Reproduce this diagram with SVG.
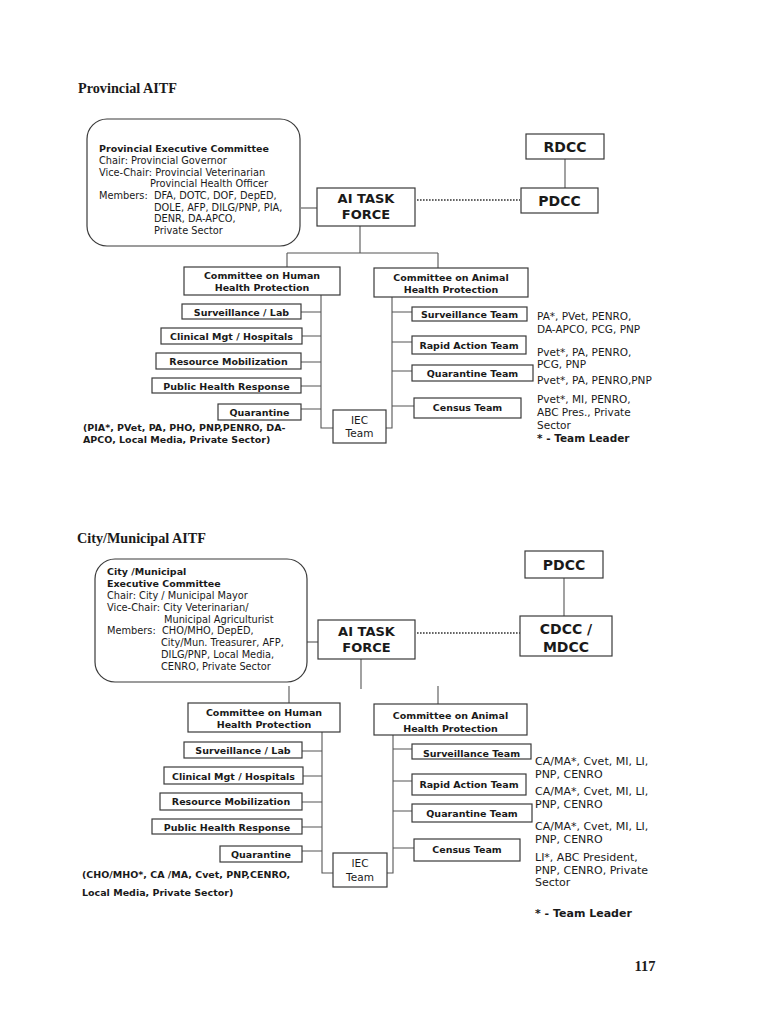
<svg xmlns="http://www.w3.org/2000/svg" width="768" height="1024" viewBox="0 0 768 1024">
<style>
.bg{fill:#fff}
.box{fill:#fff;stroke:#3a3a3a;stroke-width:1.2}
.rbox{fill:#fff;stroke:#3a3a3a;stroke-width:1.2}
.ln{stroke:#555;stroke-width:1.1;fill:none}
.dot{stroke:#333;stroke-width:1.6;stroke-dasharray:1.6 1.4;fill:none}
.t{font-family:"DejaVu Sans",Verdana,sans-serif;fill:#1a1a1a;font-size:9.5px}
.ex{font-size:9.8px}
.b{font-weight:bold}
.c{text-anchor:middle}
.big{font-size:13px;font-weight:bold}
.xl{font-size:14px;font-weight:bold}
.side{font-size:10.5px}
.side2{font-size:11px}
.iec{font-size:10.5px}
.title{font-family:"Liberation Serif","Times New Roman",serif;font-weight:bold;font-size:14.5px;fill:#1a1a1a}
</style>
<rect class="bg" x="0" y="0" width="768" height="1024"/>

<text class="title" x="78" y="93" textLength="99" lengthAdjust="spacingAndGlyphs">Provincial AITF</text>
<text class="title" x="77" y="543" textLength="129" lengthAdjust="spacingAndGlyphs">City/Municipal AITF</text>
<text class="title" x="645" y="971" text-anchor="middle" font-size="15">117</text>

<g id="connectors">
  <path class="ln" d="M301 208H317"/>
  <path class="dot" d="M417 200H520"/>
  <path class="ln" d="M565 159V188"/>
  <path class="ln" d="M360 226V253M287 253H438M287 253V267M438 253V268"/>
  <path class="ln" d="M321 295V428H333"/>
  <path class="ln" d="M301 312H321M302 336H321M301 362H321M301 386H321M301 409H321"/>
  <path class="ln" d="M392 297V428H386"/>
  <path class="ln" d="M392 312H412M392 342H412M392 371H412M392 406H414"/>

  <path class="ln" d="M307 642H318"/>
  <path class="dot" d="M417 633H520"/>
  <path class="ln" d="M564 578V616"/>
  <path class="ln" d="M361 659V689"/>
  <path class="ln" d="M289 686V703"/>
  <path class="ln" d="M438 686V704"/>
  <path class="ln" d="M322 732V873H333"/>
  <path class="ln" d="M302 751H322M303 776H322M302 802H322M302 827H322M302 851H322"/>
  <path class="ln" d="M393 735V873H387"/>
  <path class="ln" d="M393 749H412M393 781H412M393 811H412M393 848H414"/>
</g>

<!-- ===== Provincial ===== -->
<g id="p-exec">
  <rect class="rbox" x="87" y="119" width="213" height="127" rx="20"/>
  <text class="t b" x="99" y="152">Provincial Executive Committee</text>
  <text class="t ex" x="99" y="164">Chair: Provincial Governor</text>
  <text class="t ex" x="99" y="175.5">Vice-Chair: Provincial Veterinarian</text>
  <text class="t ex" x="150" y="187">Provincial Health Officer</text>
  <text class="t ex" x="99" y="199">Members:</text>
  <text class="t ex" x="154" y="199">DFA, DOTC, DOF, DepED,</text>
  <text class="t ex" x="154" y="210.5">DOLE, AFP, DILG/PNP, PIA,</text>
  <text class="t ex" x="154" y="222">DENR, DA-APCO,</text>
  <text class="t ex" x="154" y="234">Private Sector</text>
</g>
<g id="p-aitf">
  <rect class="box" x="317" y="188" width="98" height="38"/>
  <text class="t big c" x="366" y="203">AI TASK</text>
  <text class="t big c" x="366" y="219">FORCE</text>
</g>
<g id="p-rdcc">
  <rect class="box" x="526" y="134" width="78" height="25"/>
  <text class="t xl c" x="565" y="152">RDCC</text>
</g>
<g id="p-pdcc">
  <rect class="box" x="521" y="188" width="77" height="25"/>
  <text class="t xl c" x="559.5" y="206">PDCC</text>
</g>
<g id="p-human">
  <rect class="box" x="184" y="267" width="156" height="28"/>
  <text class="t b c" x="262" y="279">Committee on Human</text>
  <text class="t b c" x="262" y="291">Health Protection</text>
</g>
<g id="p-animal">
  <rect class="box" x="374" y="268" width="154" height="29"/>
  <text class="t b c" x="451" y="281">Committee on Animal</text>
  <text class="t b c" x="451" y="293">Health Protection</text>
</g>
<g id="p-h-surv">
  <rect class="box" x="182" y="304" width="119" height="15"/>
  <text class="t b c" x="241.5" y="315.5">Surveillance / Lab</text>
</g>
<g id="p-h-clin">
  <rect class="box" x="161" y="328" width="141" height="16"/>
  <text class="t b c" x="231.5" y="340">Clinical Mgt / Hospitals</text>
</g>
<g id="p-h-res">
  <rect class="box" x="156" y="353" width="145" height="16"/>
  <text class="t b c" x="228.5" y="365">Resource Mobilization</text>
</g>
<g id="p-h-pub">
  <rect class="box" x="152" y="378" width="149" height="15"/>
  <text class="t b c" x="226.5" y="389.5">Public Health Response</text>
</g>
<g id="p-h-quar">
  <rect class="box" x="218" y="404" width="83" height="16"/>
  <text class="t b c" x="259.5" y="416">Quarantine</text>
  <text class="t b" x="83" y="431">(PIA*, PVet, PA, PHO, PNP,PENRO, DA-</text>
  <text class="t b" x="83" y="442.5">APCO, Local Media, Private Sector)</text>
</g>
<g id="p-iec">
  <rect class="box" x="333" y="410" width="53" height="33"/>
  <text class="t iec c" x="359.5" y="423.5">IEC</text>
  <text class="t iec c" x="359.5" y="437">Team</text>
</g>
<g id="p-a-surv">
  <rect class="box" x="412" y="307" width="115" height="14"/>
  <text class="t b c" x="469.5" y="318">Surveillance Team</text>
  <text class="t side" x="537" y="320">PA*, PVet, PENRO,</text>
  <text class="t side" x="537" y="333">DA-APCO, PCG, PNP</text>
</g>
<g id="p-a-rapid">
  <rect class="box" x="412" y="336" width="114" height="18"/>
  <text class="t b c" x="469" y="348.5">Rapid Action Team</text>
  <text class="t side" x="537" y="356">Pvet*, PA, PENRO,</text>
  <text class="t side" x="537" y="368">PCG, PNP</text>
</g>
<g id="p-a-quar">
  <rect class="box" x="412" y="365" width="121" height="16"/>
  <text class="t b c" x="472.5" y="377">Quarantine Team</text>
  <text class="t side" x="537" y="384">Pvet*, PA, PENRO,PNP</text>
</g>
<g id="p-a-census">
  <rect class="box" x="414" y="398" width="107" height="20"/>
  <text class="t b c" x="467.5" y="411">Census Team</text>
  <text class="t side" x="537" y="403">Pvet*, MI, PENRO,</text>
  <text class="t side" x="537" y="416">ABC Pres., Private</text>
  <text class="t side" x="537" y="429">Sector</text>
  <text class="t side b" x="537" y="442">* - Team Leader</text>
</g>

<!-- ===== City / Municipal ===== -->
<g id="c-exec">
  <rect class="rbox" x="95" y="559" width="212" height="123" rx="20"/>
  <text class="t b" x="107" y="575">City /Municipal</text>
  <text class="t b" x="107" y="587">Executive Committee</text>
  <text class="t ex" x="107" y="599">Chair: City / Municipal Mayor</text>
  <text class="t ex" x="107" y="610.5">Vice-Chair: City Veterinarian/</text>
  <text class="t ex" x="164" y="622.5">Municipal Agriculturist</text>
  <text class="t ex" x="107" y="634">Members:</text>
  <text class="t ex" x="162" y="634">CHO/MHO, DepED,</text>
  <text class="t ex" x="161" y="646">City/Mun. Treasurer, AFP,</text>
  <text class="t ex" x="161" y="657.5">DILG/PNP, Local Media,</text>
  <text class="t ex" x="161" y="669.5">CENRO, Private Sector</text>
</g>
<g id="c-aitf">
  <rect class="box" x="318" y="620" width="97" height="39"/>
  <text class="t big c" x="366.5" y="636">AI TASK</text>
  <text class="t big c" x="366.5" y="652">FORCE</text>
</g>
<g id="c-pdcc">
  <rect class="box" x="525" y="551" width="78" height="27"/>
  <text class="t xl c" x="564" y="569.5">PDCC</text>
</g>
<g id="c-cdcc">
  <rect class="box" x="520" y="616" width="92" height="40"/>
  <text class="t xl c" x="566" y="634">CDCC /</text>
  <text class="t xl c" x="566" y="652">MDCC</text>
</g>
<g id="c-human">
  <rect class="box" x="188" y="703" width="152" height="29"/>
  <text class="t b c" x="264" y="715.5">Committee on Human</text>
  <text class="t b c" x="264" y="727.5">Health Protection</text>
</g>
<g id="c-animal">
  <rect class="box" x="374" y="704" width="153" height="31"/>
  <text class="t b c" x="450.5" y="718.5" font-size="11">Committee on Animal</text>
  <text class="t b c" x="450.5" y="732" font-size="11">Health Protection</text>
</g>
<g id="c-h-surv">
  <rect class="box" x="184" y="742" width="118" height="16"/>
  <text class="t b c" x="243" y="754">Surveillance / Lab</text>
</g>
<g id="c-h-clin">
  <rect class="box" x="164" y="767" width="139" height="17"/>
  <text class="t b c" x="233.5" y="779.5">Clinical Mgt / Hospitals</text>
</g>
<g id="c-h-res">
  <rect class="box" x="160" y="793" width="142" height="17"/>
  <text class="t b c" x="231" y="805">Resource Mobilization</text>
</g>
<g id="c-h-pub">
  <rect class="box" x="152" y="819" width="150" height="15"/>
  <text class="t b c" x="227" y="830.5">Public Health Response</text>
</g>
<g id="c-h-quar">
  <rect class="box" x="220" y="846" width="82" height="16"/>
  <text class="t b c" x="261" y="858">Quarantine</text>
  <text class="t b" x="82" y="878">(CHO/MHO*, CA /MA, Cvet, PNP,CENRO,</text>
  <text class="t b" x="82" y="896">Local Media, Private Sector)</text>
</g>
<g id="c-iec">
  <rect class="box" x="333" y="853" width="54" height="34"/>
  <text class="t iec c" x="360" y="867">IEC</text>
  <text class="t iec c" x="360" y="880.5">Team</text>
</g>
<g id="c-a-surv">
  <rect class="box" x="412" y="744" width="119" height="15"/>
  <text class="t b c" x="471.5" y="756.5">Surveillance Team</text>
  <text class="t side2" x="535" y="765">CA/MA*, Cvet, MI, LI,</text>
  <text class="t side2" x="535" y="778">PNP, CENRO</text>
</g>
<g id="c-a-rapid">
  <rect class="box" x="412" y="774" width="114" height="21"/>
  <text class="t b c" x="469" y="788" font-size="10">Rapid Action Team</text>
  <text class="t side2" x="535" y="795">CA/MA*, Cvet, MI, LI,</text>
  <text class="t side2" x="535" y="808">PNP, CENRO</text>
</g>
<g id="c-a-quar">
  <rect class="box" x="412" y="804" width="120" height="18"/>
  <text class="t b c" x="472" y="817">Quarantine Team</text>
  <text class="t side2" x="535" y="830">CA/MA*, Cvet, MI, LI,</text>
  <text class="t side2" x="535" y="843">PNP, CENRO</text>
</g>
<g id="c-a-census">
  <rect class="box" x="414" y="839" width="106" height="22"/>
  <text class="t b c" x="467" y="852.5">Census Team</text>
  <text class="t side2" x="535" y="861">LI*, ABC President,</text>
  <text class="t side2" x="535" y="873.5">PNP, CENRO, Private</text>
  <text class="t side2" x="535" y="886">Sector</text>
  <text class="t side2 b" x="535" y="917">* - Team Leader</text>
</g>
</svg>
